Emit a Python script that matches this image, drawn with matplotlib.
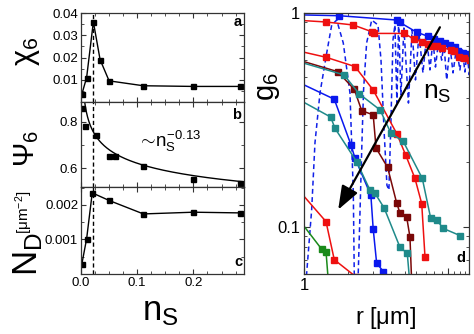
import matplotlib
matplotlib.use('Agg')
import matplotlib.pyplot as plt
import numpy as np
from matplotlib.ticker import MultipleLocator, FixedLocator, FixedFormatter, NullFormatter

plt.rcParams['font.family'] = 'Liberation Sans'
plt.rcParams['mathtext.fontset'] = 'custom'
plt.rcParams['mathtext.rm'] = 'Liberation Sans'
plt.rcParams['mathtext.it'] = 'Liberation Sans'
plt.rcParams['mathtext.bf'] = 'Liberation Sans:bold'

# panel a: susceptibility chi_6
ns_chi = [0.0015, 0.010, 0.022, 0.034, 0.050, 0.111, 0.200, 0.282]
chi6 = [0.0035, 0.011, 0.036, 0.019, 0.0095, 0.0073, 0.0070, 0.0070]

# panel b: order parameter Psi_6 and power law fit
ns_psi = [0.0015, 0.007, 0.026, 0.050, 0.061, 0.111, 0.200, 0.282]
psi6 = [0.858, 0.783, 0.743, 0.652, 0.652, 0.607, 0.553, 0.537]
fit_amp = 0.46
fit_exp = -0.13

# panel c: defect density
ns_nd = [0.0015, 0.010, 0.020, 0.050, 0.111, 0.200, 0.282]
nd = [0.00029, 0.00102, 0.00235, 0.00213, 0.00174, 0.00179, 0.00177]

ns_peak = 0.021
ns_ticks = [0.0, 0.1, 0.2]
ns_ticklabels = ['0.0', '0.1', '0.2']

# panel d: g6(r) curves
r_blue1 = [1.0, 1.75, 4.4, 4.62, 6.04, 7.26, 8.0, 8.75, 9.5, 10.3, 11.1, 11.7, 12.7, 13.5, 14.2]
g_blue1 = [0.976, 0.968, 0.924, 0.90, 0.81, 0.775, 0.75, 0.735, 0.72, 0.705, 0.694, 0.66, 0.646, 0.64, 0.63]
r_red1 = [1.0, 1.41, 2.19, 2.94, 3.03, 4.95, 5.8, 6.55, 7.2, 7.67, 8.3, 9.1, 10.4, 11.0, 11.9, 12.85, 14.2]
g_red1 = [0.918, 0.905, 0.876, 0.815, 0.80, 0.80, 0.751, 0.732, 0.712, 0.70, 0.70, 0.686, 0.67, 0.66, 0.623, 0.612, 0.60]
r_red2 = [1.0, 1.415, 2.249, 3.01, 4.4, 5.06, 5.87, 6.54, 6.89]
g_red2 = [0.653, 0.619, 0.56, 0.435, 0.271, 0.216, 0.168, 0.128, 0.0724]
r_maroon = [1.0, 1.706, 2.225, 2.505, 3.01, 3.15, 3.79, 4.38, 4.62, 5.14, 5.42, 5.57]
g_maroon = [0.59, 0.53, 0.438, 0.348, 0.333, 0.233, 0.189, 0.129, 0.1156, 0.111, 0.0892, 0.055]
r_teal1 = [1.0, 1.887, 2.41, 3.36, 4.0, 4.87, 6.6, 7.55, 8.3, 9.23, 12.05]
g_teal1 = [0.58, 0.512, 0.417, 0.351, 0.273, 0.25, 0.168, 0.1094, 0.1075, 0.098, 0.0908]
r_blue2 = [1.0, 1.615, 2.11, 2.249, 2.9, 3.01, 3.18, 3.54, 3.8]
g_blue2 = [0.459, 0.394, 0.241, 0.209, 0.140, 0.0975, 0.0675, 0.0616, 0.055]
r_teal2 = [1.0, 1.525, 1.634, 2.31, 2.86, 3.10, 3.59, 4.62, 5.19, 5.4]
g_teal2 = [0.38, 0.325, 0.288, 0.201, 0.148, 0.143, 0.122, 0.080, 0.075, 0.055]
r_red3 = [1.0, 1.415, 1.615, 2.3]
g_red3 = [0.138, 0.1055, 0.070, 0.058]
r_green = [1.0, 1.32, 1.415, 1.47]
g_green = [0.1, 0.0784, 0.0764, 0.055]

# crystalline reference, oscillating g6
r_cryst = [1.0, 1.039, 1.125, 1.186, 1.285, 1.431, 1.55, 1.679, 1.865, 2.076, 2.133, 2.19, 2.223,
           2.286, 2.37, 2.44, 2.505, 2.58, 2.71, 2.94, 3.25, 3.41, 3.58, 3.75, 3.87, 4.0, 4.13,
           4.26, 4.40, 4.52, 4.69, 4.92, 5.29, 5.6, 5.92, 6.26, 6.67, 7.06, 7.46, 7.83, 8.15,
           8.55, 9.0, 9.33, 9.75, 10.28, 10.79, 11.4, 12.05, 12.55, 13.05, 13.5, 14.0, 14.4]
g_cryst = [0.045, 0.0607, 0.12, 0.246, 0.421, 0.648, 0.876, 0.924, 0.722, 0.421, 0.246, 0.144, 0.0607,
           0.045, 0.0607, 0.12, 0.228, 0.435, 0.722, 0.924, 0.876, 0.601, 0.283, 0.156, 0.148, 0.315, 0.745,
           0.876, 0.378, 0.905, 0.413, 0.848, 0.378, 0.83, 0.485, 0.80, 0.523, 0.778, 0.54, 0.745, 0.557,
           0.73, 0.60, 0.714, 0.485, 0.699, 0.523, 0.684, 0.54, 0.67, 0.528, 0.655, 0.512, 0.634]

W, H = 474, 334
fig = plt.figure(figsize=(W / 100, H / 100), dpi=100)

spine_col = '#333333'


def px_axes(x0, y0, x1, y1):
    return fig.add_axes([x0 / W, 1 - y1 / H, (x1 - x0) / W, (y1 - y0) / H])


def style_left(ax, yticks, ylabels, yminor, show_x):
    ax.set_xlim(0, 0.29)
    ax.xaxis.set_major_locator(FixedLocator(ns_ticks))
    ax.xaxis.set_minor_locator(FixedLocator([0.025, 0.05, 0.075, 0.125, 0.15, 0.175, 0.225, 0.25, 0.275]))
    ax.yaxis.set_major_locator(FixedLocator(yticks))
    ax.yaxis.set_major_formatter(FixedFormatter(ylabels))
    ax.yaxis.set_minor_locator(MultipleLocator(yminor))
    ax.tick_params(which='both', direction='in', top=True, right=True, labelsize=9.5,
                   color=spine_col, pad=2)
    ax.tick_params(which='major', length=3.5)
    ax.tick_params(which='minor', length=2)
    if show_x:
        ax.xaxis.set_major_formatter(FixedFormatter(ns_ticklabels))
    else:
        ax.xaxis.set_major_formatter(NullFormatter())
    for s in ax.spines.values():
        s.set_color(spine_col)
        s.set_linewidth(0.9)
    ax.axvline(ns_peak, color='k', lw=1, ls=(0, (3, 2)))


ax_a = px_axes(81, 13, 244, 102)
ax_b = px_axes(81, 102, 244, 187)
ax_c = px_axes(81, 187, 244, 274)

mk = dict(marker='s', ms=3.6, color='k', lw=1, mfc='k', mec='k')

ax_a.plot(ns_chi, chi6, **mk)
ax_a.set_ylim(0, 0.04)
style_left(ax_a, [0.01, 0.02, 0.03, 0.04], ['0.01', '0.02', '0.03', '0.04'], 0.005, False)
ax_a.text(0.985, 0.9, 'a', transform=ax_a.transAxes, ha='right', va='center',
          fontsize=10.5, weight='bold')

ax_b.plot(ns_psi, psi6, ls='none', marker='s', ms=3.6, color='k')
ns_fit = np.linspace(0.004, 0.29, 300)
ax_b.plot(ns_fit, fit_amp * ns_fit ** fit_exp, color='k', lw=1)
ax_b.set_ylim(0.518, 0.885)
style_left(ax_b, [0.6, 0.8], ['0.6', '0.8'], 0.1, False)
ax_b.text(0.985, 0.85, 'b', transform=ax_b.transAxes, ha='right', va='center',
          fontsize=10.5, weight='bold')
ax_b.text(0.099, 0.69, r'$\sim\!n_S^{%.2f}$' % fit_exp, fontsize=13.5, va='baseline')

ax_c.plot(ns_nd, nd, **mk)
ax_c.set_ylim(0, 0.00252)
style_left(ax_c, [0.001, 0.002], ['0.001', '0.002'], 0.0005, True)
ax_c.text(0.99, 0.14, 'c', transform=ax_c.transAxes, ha='right', va='center',
          fontsize=10.5, weight='bold')

# right panel, log-log
ax_d = px_axes(304.3, 12.7, 469.3, 274)
ax_d.set_xscale('log')
ax_d.set_yscale('log')
ax_d.plot(r_cryst, g_cryst, color='#1020e8', lw=1.1, ls=(0, (3.2, 2.2)))

curves = [
    (r_blue1, g_blue1, '#0a18ee'),
    (r_red1, g_red1, '#ee1010'),
    (r_red2, g_red2, '#ee1010'),
    (r_maroon, g_maroon, '#7a0808'),
    (r_teal1, g_teal1, '#1f8a8a'),
    (r_blue2, g_blue2, '#0a18ee'),
    (r_teal2, g_teal2, '#1f8a8a'),
    (r_red3, g_red3, '#ee1010'),
    (r_green, g_green, '#1a8a1a'),
]
for r, g, c in curves:
    ax_d.plot(r, g, color=c, lw=1.1, marker='s', ms=4, markevery=slice(1, None))

ax_d.set_xlim(1, 14)
ax_d.set_ylim(0.06, 1)
ax_d.xaxis.set_major_locator(FixedLocator([1, 10]))
ax_d.xaxis.set_major_formatter(FixedFormatter(['1', '']))
ax_d.xaxis.set_minor_locator(FixedLocator([2, 3, 4, 5, 6, 7, 8, 9, 11, 12, 13]))
ax_d.xaxis.set_minor_formatter(NullFormatter())
ax_d.yaxis.set_major_locator(FixedLocator([0.1, 1]))
ax_d.yaxis.set_major_formatter(FixedFormatter(['0.1', '1']))
ax_d.yaxis.set_minor_locator(FixedLocator([0.06, 0.07, 0.08, 0.09, 0.2, 0.3, 0.4, 0.5, 0.6, 0.7, 0.8, 0.9]))
ax_d.yaxis.set_minor_formatter(NullFormatter())
ax_d.tick_params(which='both', direction='in', top=True, right=True, labelsize=12,
                 color=spine_col, pad=3)
ax_d.tick_params(which='major', length=4)
ax_d.tick_params(which='minor', length=2.2)
for s in ax_d.spines.values():
    s.set_color(spine_col)
    s.set_linewidth(0.9)

ax_d.annotate('', xy=(1.72, 0.12), xytext=(8.75, 0.855),
              arrowprops=dict(arrowstyle='-|>,head_length=0.8,head_width=0.3',
                              color='k', lw=1.6, mutation_scale=18, shrinkA=0, shrinkB=0))
ax_d.text(0.975, 0.035, 'd', transform=ax_d.transAxes, ha='right', va='bottom',
          fontsize=10.5, weight='bold')

# axis labels
fig.text(27 / W, 1 - 51 / H, r'$\chi_6$', rotation=90, ha='center', va='center', fontsize=22)
fig.text(27 / W, 1 - 149 / H, r'$\Psi_6$', rotation=90, ha='center', va='center', fontsize=21)
fig.text(28 / W, 1 - 254 / H, r'$\mathrm{N_D}$', rotation=90, ha='center', va='center', fontsize=25)
fig.text(24 / W, 1 - 212 / H, r'[$\mu$m$^{-2}$]', rotation=90, ha='center', va='center', fontsize=11)
fig.text(160 / W, 1 - 312 / H, r'$\mathrm{n_S}$', ha='center', va='center', fontsize=25)
fig.text(386 / W, 1 - 318 / H, r'r [$\mu$m]', ha='center', va='center', fontsize=17)
fig.text(268 / W, 1 - 87 / H, r'$\mathrm{g_6}$', rotation=90, ha='center', va='center', fontsize=21)
fig.text(437 / W, 1 - 93 / H, r'$\mathrm{n_S}$', ha='center', va='center', fontsize=19)

fig.savefig('out.png', dpi=100)
